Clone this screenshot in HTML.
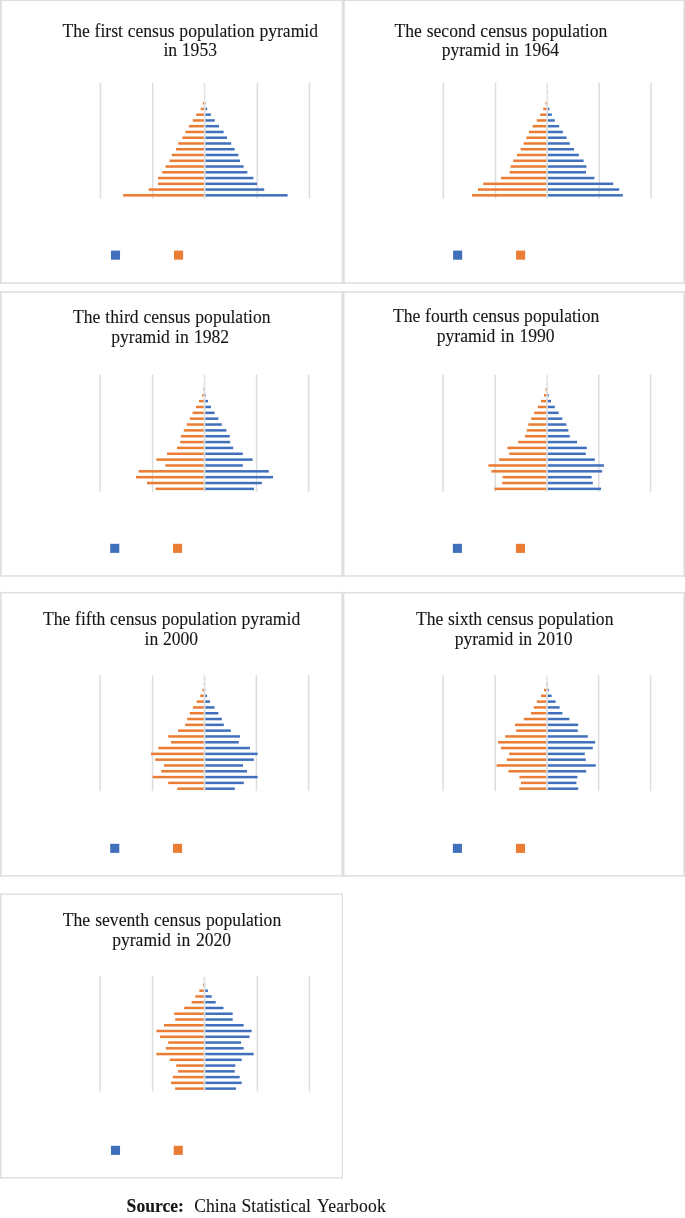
<!DOCTYPE html>
<html lang="en"><head><meta charset="utf-8"><title>Census population pyramids</title>
<style>
html,body{margin:0;padding:0;background:#fff;}
body{width:685px;height:1218px;overflow:hidden;position:relative;font-family:"Liberation Serif",serif;}
svg{position:absolute;left:0;top:0;display:block;}
text{font-family:"Liberation Serif",serif;font-size:17.6px;fill:#151515;stroke:#151515;stroke-width:0.1px;white-space:pre;}
.t{text-anchor:middle;}
</style></head><body>
<svg width="685" height="1218" viewBox="0 0 685 1218">

<rect x="0" y="0" width="685" height="1218" fill="#fff"/>
<rect x="0.00" y="0.00" width="685.00" height="1.10" fill="#DEDFE1"/>
<rect x="0.00" y="282.20" width="685.00" height="1.60" fill="#DEDFE1"/>
<rect x="0.00" y="0.00" width="1.70" height="284.00" fill="#DEDFE1"/>
<rect x="683.30" y="0.00" width="1.70" height="284.00" fill="#DEDFE1"/>
<rect x="341.70" y="0.00" width="3.00" height="284.00" fill="#DEDFE1"/>
<rect x="0.00" y="291.30" width="685.00" height="1.60" fill="#DEDFE1"/>
<rect x="0.00" y="575.20" width="685.00" height="1.50" fill="#DEDFE1"/>
<rect x="0.00" y="291.30" width="1.70" height="285.40" fill="#DEDFE1"/>
<rect x="683.30" y="291.30" width="1.70" height="285.40" fill="#DEDFE1"/>
<rect x="341.40" y="291.30" width="3.00" height="285.40" fill="#DEDFE1"/>
<rect x="0.00" y="591.90" width="685.00" height="1.50" fill="#DEDFE1"/>
<rect x="0.00" y="875.10" width="685.00" height="1.50" fill="#DEDFE1"/>
<rect x="0.00" y="591.90" width="1.70" height="284.70" fill="#DEDFE1"/>
<rect x="683.30" y="591.90" width="1.70" height="284.70" fill="#DEDFE1"/>
<rect x="341.40" y="591.90" width="3.00" height="284.70" fill="#DEDFE1"/>
<rect x="0.00" y="893.50" width="343.00" height="1.40" fill="#DEDFE1"/>
<rect x="0.00" y="1177.00" width="343.00" height="1.50" fill="#DEDFE1"/>
<rect x="0.00" y="893.50" width="1.60" height="285.00" fill="#DEDFE1"/>
<rect x="341.80" y="893.50" width="1.10" height="285.00" fill="#DEDFE1"/>
<g>
<text class="t" transform="translate(190.2,36.6) scale(1,1.02)" style="word-spacing:0.4px">The first census population pyramid</text>
<text class="t" transform="translate(190.2,56.2) scale(1,1.02)" style="word-spacing:0.3px">in 1953</text>
<rect x="99.65" y="82.70" width="1.50" height="116.00" fill="#DCDDDF"/>
<rect x="151.95" y="82.70" width="1.50" height="116.00" fill="#DCDDDF"/>
<rect x="256.55" y="82.70" width="1.50" height="116.00" fill="#DCDDDF"/>
<rect x="308.65" y="82.70" width="1.50" height="116.00" fill="#DCDDDF"/>
<rect x="123.00" y="194.07" width="81.70" height="2.50" fill="#EB7C34"/>
<rect x="204.70" y="194.07" width="82.90" height="2.50" fill="#4070BC"/>
<rect x="148.60" y="188.31" width="56.10" height="2.50" fill="#EB7C34"/>
<rect x="204.70" y="188.31" width="59.50" height="2.50" fill="#4070BC"/>
<rect x="158.00" y="182.55" width="46.70" height="2.50" fill="#EB7C34"/>
<rect x="204.70" y="182.55" width="52.30" height="2.50" fill="#4070BC"/>
<rect x="158.00" y="176.79" width="46.70" height="2.50" fill="#EB7C34"/>
<rect x="204.70" y="176.79" width="48.70" height="2.50" fill="#4070BC"/>
<rect x="162.20" y="171.03" width="42.50" height="2.50" fill="#EB7C34"/>
<rect x="204.70" y="171.03" width="42.70" height="2.50" fill="#4070BC"/>
<rect x="165.60" y="165.27" width="39.10" height="2.50" fill="#EB7C34"/>
<rect x="204.70" y="165.27" width="38.90" height="2.50" fill="#4070BC"/>
<rect x="169.60" y="159.51" width="35.10" height="2.50" fill="#EB7C34"/>
<rect x="204.70" y="159.51" width="35.30" height="2.50" fill="#4070BC"/>
<rect x="171.80" y="153.75" width="32.90" height="2.50" fill="#EB7C34"/>
<rect x="204.70" y="153.75" width="33.70" height="2.50" fill="#4070BC"/>
<rect x="176.00" y="147.99" width="28.70" height="2.50" fill="#EB7C34"/>
<rect x="204.70" y="147.99" width="29.90" height="2.50" fill="#4070BC"/>
<rect x="178.20" y="142.23" width="26.50" height="2.50" fill="#EB7C34"/>
<rect x="204.70" y="142.23" width="26.50" height="2.50" fill="#4070BC"/>
<rect x="182.40" y="136.47" width="22.30" height="2.50" fill="#EB7C34"/>
<rect x="204.70" y="136.47" width="22.30" height="2.50" fill="#4070BC"/>
<rect x="185.40" y="130.71" width="19.30" height="2.50" fill="#EB7C34"/>
<rect x="204.70" y="130.71" width="18.90" height="2.50" fill="#4070BC"/>
<rect x="188.80" y="124.95" width="15.90" height="2.50" fill="#EB7C34"/>
<rect x="204.70" y="124.95" width="14.30" height="2.50" fill="#4070BC"/>
<rect x="192.80" y="119.19" width="11.90" height="2.50" fill="#EB7C34"/>
<rect x="204.70" y="119.19" width="10.10" height="2.50" fill="#4070BC"/>
<rect x="196.20" y="113.43" width="8.50" height="2.50" fill="#EB7C34"/>
<rect x="204.70" y="113.43" width="6.10" height="2.50" fill="#4070BC"/>
<rect x="200.80" y="107.67" width="3.90" height="2.50" fill="#EB7C34"/>
<rect x="204.70" y="107.67" width="2.50" height="2.50" fill="#4070BC"/>
<rect x="202.80" y="101.91" width="1.90" height="2.50" fill="#EB7C34"/>
<rect x="204.70" y="101.91" width="0.80" height="2.50" fill="#4070BC"/>
<rect x="203.65" y="96.15" width="1.05" height="2.50" fill="#EB7C34" opacity="0.25"/>
<rect x="203.65" y="90.39" width="1.05" height="2.50" fill="#EB7C34" opacity="0.25"/>
<rect x="203.65" y="84.63" width="1.05" height="2.50" fill="#EB7C34" opacity="0.25"/>
<rect x="203.85" y="100.28" width="1.70" height="98.42" fill="#DCDEE0"/>
<rect x="203.95" y="82.70" width="1.50" height="17.58" fill="#DCDDDF" opacity="0.7"/>
<rect x="110.95" y="250.60" width="9.10" height="9.10" fill="#4070BC"/>
<rect x="174.00" y="250.60" width="9.10" height="9.10" fill="#EB7C34"/>
</g>
<g>
<text class="t" transform="translate(500.9,36.7) scale(1,1.02)" style="word-spacing:0.43px">The second census population</text>
<text class="t" transform="translate(500.3,56.3) scale(1,1.02)" style="word-spacing:0.5px">pyramid in 1964</text>
<rect x="442.55" y="82.70" width="1.50" height="116.00" fill="#DCDDDF"/>
<rect x="494.75" y="82.70" width="1.50" height="116.00" fill="#DCDDDF"/>
<rect x="598.45" y="82.70" width="1.50" height="116.00" fill="#DCDDDF"/>
<rect x="650.25" y="82.70" width="1.50" height="116.00" fill="#DCDDDF"/>
<rect x="472.00" y="194.07" width="75.10" height="2.50" fill="#EB7C34"/>
<rect x="547.10" y="194.07" width="75.70" height="2.50" fill="#4070BC"/>
<rect x="478.00" y="188.31" width="69.10" height="2.50" fill="#EB7C34"/>
<rect x="547.10" y="188.31" width="72.10" height="2.50" fill="#4070BC"/>
<rect x="483.20" y="182.55" width="63.90" height="2.50" fill="#EB7C34"/>
<rect x="547.10" y="182.55" width="66.10" height="2.50" fill="#4070BC"/>
<rect x="501.00" y="176.79" width="46.10" height="2.50" fill="#EB7C34"/>
<rect x="547.10" y="176.79" width="47.30" height="2.50" fill="#4070BC"/>
<rect x="509.60" y="171.03" width="37.50" height="2.50" fill="#EB7C34"/>
<rect x="547.10" y="171.03" width="38.90" height="2.50" fill="#4070BC"/>
<rect x="510.60" y="165.27" width="36.50" height="2.50" fill="#EB7C34"/>
<rect x="547.10" y="165.27" width="39.30" height="2.50" fill="#4070BC"/>
<rect x="513.20" y="159.51" width="33.90" height="2.50" fill="#EB7C34"/>
<rect x="547.10" y="159.51" width="36.50" height="2.50" fill="#4070BC"/>
<rect x="517.00" y="153.75" width="30.10" height="2.50" fill="#EB7C34"/>
<rect x="547.10" y="153.75" width="31.70" height="2.50" fill="#4070BC"/>
<rect x="520.60" y="147.99" width="26.50" height="2.50" fill="#EB7C34"/>
<rect x="547.10" y="147.99" width="26.90" height="2.50" fill="#4070BC"/>
<rect x="523.60" y="142.23" width="23.50" height="2.50" fill="#EB7C34"/>
<rect x="547.10" y="142.23" width="22.70" height="2.50" fill="#4070BC"/>
<rect x="526.40" y="136.47" width="20.70" height="2.50" fill="#EB7C34"/>
<rect x="547.10" y="136.47" width="19.50" height="2.50" fill="#4070BC"/>
<rect x="529.00" y="130.71" width="18.10" height="2.50" fill="#EB7C34"/>
<rect x="547.10" y="130.71" width="15.70" height="2.50" fill="#4070BC"/>
<rect x="532.60" y="124.95" width="14.50" height="2.50" fill="#EB7C34"/>
<rect x="547.10" y="124.95" width="12.10" height="2.50" fill="#4070BC"/>
<rect x="536.80" y="119.19" width="10.30" height="2.50" fill="#EB7C34"/>
<rect x="547.10" y="119.19" width="7.70" height="2.50" fill="#4070BC"/>
<rect x="540.20" y="113.43" width="6.90" height="2.50" fill="#EB7C34"/>
<rect x="547.10" y="113.43" width="4.70" height="2.50" fill="#4070BC"/>
<rect x="543.20" y="107.67" width="3.90" height="2.50" fill="#EB7C34"/>
<rect x="547.10" y="107.67" width="2.30" height="2.50" fill="#4070BC"/>
<rect x="545.40" y="101.91" width="1.70" height="2.50" fill="#EB7C34"/>
<rect x="547.10" y="101.91" width="0.50" height="2.50" fill="#4070BC"/>
<rect x="547.10" y="96.15" width="1.05" height="2.50" fill="#4070BC" opacity="0.25"/>
<rect x="547.10" y="90.39" width="1.05" height="2.50" fill="#4070BC" opacity="0.25"/>
<rect x="547.10" y="84.63" width="1.05" height="2.50" fill="#4070BC" opacity="0.25"/>
<rect x="546.25" y="100.28" width="1.70" height="98.42" fill="#DCDEE0"/>
<rect x="546.35" y="82.70" width="1.50" height="17.58" fill="#DCDDDF" opacity="0.7"/>
<rect x="453.10" y="250.60" width="9.10" height="9.10" fill="#4070BC"/>
<rect x="516.10" y="250.60" width="9.10" height="9.10" fill="#EB7C34"/>
</g>
<g>
<text class="t" transform="translate(171.8,322.8) scale(1,1.02)" style="word-spacing:0.53px">The third census population</text>
<text class="t" transform="translate(170.2,342.6) scale(1,1.02)" style="word-spacing:0.8px">pyramid in 1982</text>
<rect x="99.45" y="374.50" width="1.50" height="117.30" fill="#DCDDDF"/>
<rect x="151.85" y="374.50" width="1.50" height="117.30" fill="#DCDDDF"/>
<rect x="255.85" y="374.50" width="1.50" height="117.30" fill="#DCDDDF"/>
<rect x="307.85" y="374.50" width="1.50" height="117.30" fill="#DCDDDF"/>
<rect x="155.60" y="487.62" width="48.90" height="2.50" fill="#EB7C34"/>
<rect x="204.50" y="487.62" width="49.50" height="2.50" fill="#4070BC"/>
<rect x="147.00" y="481.78" width="57.50" height="2.50" fill="#EB7C34"/>
<rect x="204.50" y="481.78" width="57.30" height="2.50" fill="#4070BC"/>
<rect x="136.00" y="475.93" width="68.50" height="2.50" fill="#EB7C34"/>
<rect x="204.50" y="475.93" width="68.50" height="2.50" fill="#4070BC"/>
<rect x="138.60" y="470.07" width="65.90" height="2.50" fill="#EB7C34"/>
<rect x="204.50" y="470.07" width="64.30" height="2.50" fill="#4070BC"/>
<rect x="165.40" y="464.23" width="39.10" height="2.50" fill="#EB7C34"/>
<rect x="204.50" y="464.23" width="38.30" height="2.50" fill="#4070BC"/>
<rect x="156.40" y="458.38" width="48.10" height="2.50" fill="#EB7C34"/>
<rect x="204.50" y="458.38" width="48.10" height="2.50" fill="#4070BC"/>
<rect x="167.00" y="452.53" width="37.50" height="2.50" fill="#EB7C34"/>
<rect x="204.50" y="452.53" width="38.30" height="2.50" fill="#4070BC"/>
<rect x="177.00" y="446.68" width="27.50" height="2.50" fill="#EB7C34"/>
<rect x="204.50" y="446.68" width="28.70" height="2.50" fill="#4070BC"/>
<rect x="180.20" y="440.83" width="24.30" height="2.50" fill="#EB7C34"/>
<rect x="204.50" y="440.83" width="25.70" height="2.50" fill="#4070BC"/>
<rect x="180.80" y="434.98" width="23.70" height="2.50" fill="#EB7C34"/>
<rect x="204.50" y="434.98" width="25.30" height="2.50" fill="#4070BC"/>
<rect x="183.80" y="429.12" width="20.70" height="2.50" fill="#EB7C34"/>
<rect x="204.50" y="429.12" width="21.90" height="2.50" fill="#4070BC"/>
<rect x="186.80" y="423.28" width="17.70" height="2.50" fill="#EB7C34"/>
<rect x="204.50" y="423.28" width="17.30" height="2.50" fill="#4070BC"/>
<rect x="189.80" y="417.43" width="14.70" height="2.50" fill="#EB7C34"/>
<rect x="204.50" y="417.43" width="13.90" height="2.50" fill="#4070BC"/>
<rect x="192.60" y="411.58" width="11.90" height="2.50" fill="#EB7C34"/>
<rect x="204.50" y="411.58" width="10.10" height="2.50" fill="#4070BC"/>
<rect x="196.00" y="405.73" width="8.50" height="2.50" fill="#EB7C34"/>
<rect x="204.50" y="405.73" width="6.50" height="2.50" fill="#4070BC"/>
<rect x="199.00" y="399.88" width="5.50" height="2.50" fill="#EB7C34"/>
<rect x="204.50" y="399.88" width="3.50" height="2.50" fill="#4070BC"/>
<rect x="202.20" y="394.03" width="2.30" height="2.50" fill="#EB7C34"/>
<rect x="204.50" y="394.03" width="1.30" height="2.50" fill="#4070BC"/>
<rect x="203.40" y="388.18" width="1.10" height="2.50" fill="#EB7C34"/>
<rect x="204.50" y="388.18" width="0.50" height="2.50" fill="#4070BC"/>
<rect x="204.50" y="382.33" width="1.05" height="2.50" fill="#4070BC" opacity="0.25"/>
<rect x="204.50" y="376.48" width="1.05" height="2.50" fill="#4070BC" opacity="0.25"/>
<rect x="203.65" y="386.50" width="1.70" height="105.30" fill="#DCDEE0"/>
<rect x="203.75" y="374.50" width="1.50" height="12.00" fill="#DCDDDF" opacity="0.7"/>
<rect x="110.20" y="543.80" width="9.10" height="9.10" fill="#4070BC"/>
<rect x="173.00" y="543.80" width="9.10" height="9.10" fill="#EB7C34"/>
</g>
<g>
<text class="t" transform="translate(496.2,321.7) scale(1,1.02)" style="word-spacing:0.2px">The fourth census population</text>
<text class="t" transform="translate(495.7,341.5) scale(1,1.02)" style="word-spacing:0.8px">pyramid in 1990</text>
<rect x="442.25" y="374.50" width="1.50" height="117.30" fill="#DCDDDF"/>
<rect x="494.45" y="374.50" width="1.50" height="117.30" fill="#DCDDDF"/>
<rect x="598.05" y="374.50" width="1.50" height="117.30" fill="#DCDDDF"/>
<rect x="649.85" y="374.50" width="1.50" height="117.30" fill="#DCDDDF"/>
<rect x="494.60" y="487.62" width="52.40" height="2.50" fill="#EB7C34"/>
<rect x="547.00" y="487.62" width="54.00" height="2.50" fill="#4070BC"/>
<rect x="502.20" y="481.78" width="44.80" height="2.50" fill="#EB7C34"/>
<rect x="547.00" y="481.78" width="45.80" height="2.50" fill="#4070BC"/>
<rect x="502.60" y="475.93" width="44.40" height="2.50" fill="#EB7C34"/>
<rect x="547.00" y="475.93" width="44.60" height="2.50" fill="#4070BC"/>
<rect x="491.40" y="470.07" width="55.60" height="2.50" fill="#EB7C34"/>
<rect x="547.00" y="470.07" width="55.20" height="2.50" fill="#4070BC"/>
<rect x="488.40" y="464.23" width="58.60" height="2.50" fill="#EB7C34"/>
<rect x="547.00" y="464.23" width="57.00" height="2.50" fill="#4070BC"/>
<rect x="499.20" y="458.38" width="47.80" height="2.50" fill="#EB7C34"/>
<rect x="547.00" y="458.38" width="47.80" height="2.50" fill="#4070BC"/>
<rect x="509.20" y="452.53" width="37.80" height="2.50" fill="#EB7C34"/>
<rect x="547.00" y="452.53" width="38.80" height="2.50" fill="#4070BC"/>
<rect x="507.40" y="446.68" width="39.60" height="2.50" fill="#EB7C34"/>
<rect x="547.00" y="446.68" width="39.80" height="2.50" fill="#4070BC"/>
<rect x="518.20" y="440.83" width="28.80" height="2.50" fill="#EB7C34"/>
<rect x="547.00" y="440.83" width="30.00" height="2.50" fill="#4070BC"/>
<rect x="525.00" y="434.98" width="22.00" height="2.50" fill="#EB7C34"/>
<rect x="547.00" y="434.98" width="22.80" height="2.50" fill="#4070BC"/>
<rect x="526.80" y="429.12" width="20.20" height="2.50" fill="#EB7C34"/>
<rect x="547.00" y="429.12" width="21.40" height="2.50" fill="#4070BC"/>
<rect x="528.20" y="423.28" width="18.80" height="2.50" fill="#EB7C34"/>
<rect x="547.00" y="423.28" width="19.40" height="2.50" fill="#4070BC"/>
<rect x="531.20" y="417.43" width="15.80" height="2.50" fill="#EB7C34"/>
<rect x="547.00" y="417.43" width="15.40" height="2.50" fill="#4070BC"/>
<rect x="534.20" y="411.58" width="12.80" height="2.50" fill="#EB7C34"/>
<rect x="547.00" y="411.58" width="11.60" height="2.50" fill="#4070BC"/>
<rect x="537.80" y="405.73" width="9.20" height="2.50" fill="#EB7C34"/>
<rect x="547.00" y="405.73" width="7.80" height="2.50" fill="#4070BC"/>
<rect x="541.00" y="399.88" width="6.00" height="2.50" fill="#EB7C34"/>
<rect x="547.00" y="399.88" width="4.00" height="2.50" fill="#4070BC"/>
<rect x="544.00" y="394.03" width="3.00" height="2.50" fill="#EB7C34"/>
<rect x="547.00" y="394.03" width="1.80" height="2.50" fill="#4070BC"/>
<rect x="545.40" y="388.18" width="1.60" height="2.50" fill="#EB7C34"/>
<rect x="547.00" y="388.18" width="0.60" height="2.50" fill="#4070BC"/>
<rect x="547.00" y="382.33" width="1.05" height="2.50" fill="#4070BC" opacity="0.25"/>
<rect x="547.00" y="376.48" width="1.05" height="2.50" fill="#4070BC" opacity="0.25"/>
<rect x="546.15" y="386.50" width="1.70" height="105.30" fill="#DCDEE0"/>
<rect x="546.25" y="374.50" width="1.50" height="12.00" fill="#DCDDDF" opacity="0.7"/>
<rect x="452.85" y="543.80" width="9.10" height="9.10" fill="#4070BC"/>
<rect x="515.90" y="543.80" width="9.10" height="9.10" fill="#EB7C34"/>
</g>
<g>
<text class="t" transform="translate(171.6,625.2) scale(1,1.02)" style="word-spacing:0.3px">The fifth census population pyramid</text>
<text class="t" transform="translate(171.35,645.3) scale(1,1.02)" style="word-spacing:0.3px">in 2000</text>
<rect x="99.45" y="675.20" width="1.50" height="116.00" fill="#DCDDDF"/>
<rect x="151.85" y="675.20" width="1.50" height="116.00" fill="#DCDDDF"/>
<rect x="255.65" y="675.20" width="1.50" height="116.00" fill="#DCDDDF"/>
<rect x="307.85" y="675.20" width="1.50" height="116.00" fill="#DCDDDF"/>
<rect x="177.20" y="787.45" width="27.30" height="2.50" fill="#EB7C34"/>
<rect x="204.50" y="787.45" width="30.30" height="2.50" fill="#4070BC"/>
<rect x="168.20" y="781.64" width="36.30" height="2.50" fill="#EB7C34"/>
<rect x="204.50" y="781.64" width="39.30" height="2.50" fill="#4070BC"/>
<rect x="152.60" y="775.84" width="51.90" height="2.50" fill="#EB7C34"/>
<rect x="204.50" y="775.84" width="53.10" height="2.50" fill="#4070BC"/>
<rect x="161.20" y="770.03" width="43.30" height="2.50" fill="#EB7C34"/>
<rect x="204.50" y="770.03" width="42.50" height="2.50" fill="#4070BC"/>
<rect x="164.00" y="764.23" width="40.50" height="2.50" fill="#EB7C34"/>
<rect x="204.50" y="764.23" width="38.50" height="2.50" fill="#4070BC"/>
<rect x="155.20" y="758.42" width="49.30" height="2.50" fill="#EB7C34"/>
<rect x="204.50" y="758.42" width="49.30" height="2.50" fill="#4070BC"/>
<rect x="151.00" y="752.62" width="53.50" height="2.50" fill="#EB7C34"/>
<rect x="204.50" y="752.62" width="53.10" height="2.50" fill="#4070BC"/>
<rect x="158.40" y="746.81" width="46.10" height="2.50" fill="#EB7C34"/>
<rect x="204.50" y="746.81" width="45.50" height="2.50" fill="#4070BC"/>
<rect x="171.00" y="741.01" width="33.50" height="2.50" fill="#EB7C34"/>
<rect x="204.50" y="741.01" width="34.30" height="2.50" fill="#4070BC"/>
<rect x="168.20" y="735.20" width="36.30" height="2.50" fill="#EB7C34"/>
<rect x="204.50" y="735.20" width="35.50" height="2.50" fill="#4070BC"/>
<rect x="178.00" y="729.40" width="26.50" height="2.50" fill="#EB7C34"/>
<rect x="204.50" y="729.40" width="26.30" height="2.50" fill="#4070BC"/>
<rect x="185.20" y="723.59" width="19.30" height="2.50" fill="#EB7C34"/>
<rect x="204.50" y="723.59" width="19.30" height="2.50" fill="#4070BC"/>
<rect x="187.20" y="717.79" width="17.30" height="2.50" fill="#EB7C34"/>
<rect x="204.50" y="717.79" width="17.30" height="2.50" fill="#4070BC"/>
<rect x="189.80" y="711.98" width="14.70" height="2.50" fill="#EB7C34"/>
<rect x="204.50" y="711.98" width="13.90" height="2.50" fill="#4070BC"/>
<rect x="193.00" y="706.18" width="11.50" height="2.50" fill="#EB7C34"/>
<rect x="204.50" y="706.18" width="10.10" height="2.50" fill="#4070BC"/>
<rect x="196.60" y="700.37" width="7.90" height="2.50" fill="#EB7C34"/>
<rect x="204.50" y="700.37" width="5.50" height="2.50" fill="#4070BC"/>
<rect x="200.20" y="694.57" width="4.30" height="2.50" fill="#EB7C34"/>
<rect x="204.50" y="694.57" width="2.50" height="2.50" fill="#4070BC"/>
<rect x="202.40" y="688.76" width="2.10" height="2.50" fill="#EB7C34"/>
<rect x="204.50" y="688.76" width="0.70" height="2.50" fill="#4070BC"/>
<rect x="203.45" y="682.96" width="1.05" height="2.50" fill="#EB7C34" opacity="0.25"/>
<rect x="204.50" y="682.96" width="1.05" height="2.50" fill="#4070BC" opacity="0.25"/>
<rect x="203.45" y="677.15" width="1.05" height="2.50" fill="#EB7C34" opacity="0.25"/>
<rect x="204.50" y="677.15" width="1.05" height="2.50" fill="#4070BC" opacity="0.25"/>
<rect x="203.65" y="687.11" width="1.70" height="104.09" fill="#DCDEE0"/>
<rect x="203.75" y="675.20" width="1.50" height="11.91" fill="#DCDDDF" opacity="0.7"/>
<rect x="110.20" y="843.80" width="9.10" height="9.10" fill="#4070BC"/>
<rect x="173.00" y="843.80" width="9.10" height="9.10" fill="#EB7C34"/>
</g>
<g>
<text class="t" transform="translate(514.7,625.2) scale(1,1.02)" style="word-spacing:0.2px">The sixth census population</text>
<text class="t" transform="translate(513.6,645.2) scale(1,1.02)" style="word-spacing:0.8px">pyramid in 2010</text>
<rect x="442.25" y="675.20" width="1.50" height="116.00" fill="#DCDDDF"/>
<rect x="494.45" y="675.20" width="1.50" height="116.00" fill="#DCDDDF"/>
<rect x="597.85" y="675.20" width="1.50" height="116.00" fill="#DCDDDF"/>
<rect x="649.85" y="675.20" width="1.50" height="116.00" fill="#DCDDDF"/>
<rect x="519.20" y="787.45" width="27.80" height="2.50" fill="#EB7C34"/>
<rect x="547.00" y="787.45" width="31.20" height="2.50" fill="#4070BC"/>
<rect x="521.00" y="781.64" width="26.00" height="2.50" fill="#EB7C34"/>
<rect x="547.00" y="781.64" width="29.40" height="2.50" fill="#4070BC"/>
<rect x="519.40" y="775.84" width="27.60" height="2.50" fill="#EB7C34"/>
<rect x="547.00" y="775.84" width="30.40" height="2.50" fill="#4070BC"/>
<rect x="508.40" y="770.03" width="38.60" height="2.50" fill="#EB7C34"/>
<rect x="547.00" y="770.03" width="39.20" height="2.50" fill="#4070BC"/>
<rect x="496.60" y="764.23" width="50.40" height="2.50" fill="#EB7C34"/>
<rect x="547.00" y="764.23" width="48.80" height="2.50" fill="#4070BC"/>
<rect x="506.80" y="758.42" width="40.20" height="2.50" fill="#EB7C34"/>
<rect x="547.00" y="758.42" width="38.80" height="2.50" fill="#4070BC"/>
<rect x="509.20" y="752.62" width="37.80" height="2.50" fill="#EB7C34"/>
<rect x="547.00" y="752.62" width="37.80" height="2.50" fill="#4070BC"/>
<rect x="501.00" y="746.81" width="46.00" height="2.50" fill="#EB7C34"/>
<rect x="547.00" y="746.81" width="45.80" height="2.50" fill="#4070BC"/>
<rect x="498.00" y="741.01" width="49.00" height="2.50" fill="#EB7C34"/>
<rect x="547.00" y="741.01" width="48.20" height="2.50" fill="#4070BC"/>
<rect x="505.20" y="735.20" width="41.80" height="2.50" fill="#EB7C34"/>
<rect x="547.00" y="735.20" width="40.80" height="2.50" fill="#4070BC"/>
<rect x="516.20" y="729.40" width="30.80" height="2.50" fill="#EB7C34"/>
<rect x="547.00" y="729.40" width="30.80" height="2.50" fill="#4070BC"/>
<rect x="515.00" y="723.59" width="32.00" height="2.50" fill="#EB7C34"/>
<rect x="547.00" y="723.59" width="31.20" height="2.50" fill="#4070BC"/>
<rect x="523.80" y="717.79" width="23.20" height="2.50" fill="#EB7C34"/>
<rect x="547.00" y="717.79" width="22.40" height="2.50" fill="#4070BC"/>
<rect x="531.00" y="711.98" width="16.00" height="2.50" fill="#EB7C34"/>
<rect x="547.00" y="711.98" width="15.40" height="2.50" fill="#4070BC"/>
<rect x="533.80" y="706.18" width="13.20" height="2.50" fill="#EB7C34"/>
<rect x="547.00" y="706.18" width="12.60" height="2.50" fill="#4070BC"/>
<rect x="536.80" y="700.37" width="10.20" height="2.50" fill="#EB7C34"/>
<rect x="547.00" y="700.37" width="8.60" height="2.50" fill="#4070BC"/>
<rect x="541.00" y="694.57" width="6.00" height="2.50" fill="#EB7C34"/>
<rect x="547.00" y="694.57" width="4.60" height="2.50" fill="#4070BC"/>
<rect x="544.00" y="688.76" width="3.00" height="2.50" fill="#EB7C34"/>
<rect x="547.00" y="688.76" width="1.80" height="2.50" fill="#4070BC"/>
<rect x="546.20" y="682.96" width="0.80" height="2.50" fill="#EB7C34"/>
<rect x="547.00" y="682.96" width="0.40" height="2.50" fill="#4070BC"/>
<rect x="545.95" y="677.15" width="1.05" height="2.50" fill="#EB7C34" opacity="0.25"/>
<rect x="546.15" y="681.30" width="1.70" height="109.90" fill="#DCDEE0"/>
<rect x="546.25" y="675.20" width="1.50" height="6.10" fill="#DCDDDF" opacity="0.7"/>
<rect x="452.85" y="843.80" width="9.10" height="9.10" fill="#4070BC"/>
<rect x="515.90" y="843.80" width="9.10" height="9.10" fill="#EB7C34"/>
</g>
<g>
<text class="t" transform="translate(172,926.0) scale(1,1.02)" style="word-spacing:0.67px">The seventh census population</text>
<text class="t" transform="translate(171.65,946.0) scale(1,1.02)" style="word-spacing:1.35px">pyramid in 2020</text>
<rect x="99.45" y="976.00" width="1.50" height="115.50" fill="#DCDDDF"/>
<rect x="151.85" y="976.00" width="1.50" height="115.50" fill="#DCDDDF"/>
<rect x="256.65" y="976.00" width="1.50" height="115.50" fill="#DCDDDF"/>
<rect x="308.65" y="976.00" width="1.50" height="115.50" fill="#DCDDDF"/>
<rect x="175.20" y="1087.37" width="29.30" height="2.50" fill="#EB7C34"/>
<rect x="204.50" y="1087.37" width="31.60" height="2.50" fill="#4070BC"/>
<rect x="171.00" y="1081.61" width="33.50" height="2.50" fill="#EB7C34"/>
<rect x="204.50" y="1081.61" width="37.20" height="2.50" fill="#4070BC"/>
<rect x="172.80" y="1075.85" width="31.70" height="2.50" fill="#EB7C34"/>
<rect x="204.50" y="1075.85" width="35.20" height="2.50" fill="#4070BC"/>
<rect x="178.00" y="1070.09" width="26.50" height="2.50" fill="#EB7C34"/>
<rect x="204.50" y="1070.09" width="30.20" height="2.50" fill="#4070BC"/>
<rect x="176.20" y="1064.33" width="28.30" height="2.50" fill="#EB7C34"/>
<rect x="204.50" y="1064.33" width="30.80" height="2.50" fill="#4070BC"/>
<rect x="169.80" y="1058.57" width="34.70" height="2.50" fill="#EB7C34"/>
<rect x="204.50" y="1058.57" width="37.20" height="2.50" fill="#4070BC"/>
<rect x="156.40" y="1052.81" width="48.10" height="2.50" fill="#EB7C34"/>
<rect x="204.50" y="1052.81" width="49.20" height="2.50" fill="#4070BC"/>
<rect x="165.80" y="1047.05" width="38.70" height="2.50" fill="#EB7C34"/>
<rect x="204.50" y="1047.05" width="39.20" height="2.50" fill="#4070BC"/>
<rect x="168.20" y="1041.29" width="36.30" height="2.50" fill="#EB7C34"/>
<rect x="204.50" y="1041.29" width="36.60" height="2.50" fill="#4070BC"/>
<rect x="160.00" y="1035.53" width="44.50" height="2.50" fill="#EB7C34"/>
<rect x="204.50" y="1035.53" width="45.00" height="2.50" fill="#4070BC"/>
<rect x="156.40" y="1029.77" width="48.10" height="2.50" fill="#EB7C34"/>
<rect x="204.50" y="1029.77" width="47.20" height="2.50" fill="#4070BC"/>
<rect x="164.00" y="1024.01" width="40.50" height="2.50" fill="#EB7C34"/>
<rect x="204.50" y="1024.01" width="39.20" height="2.50" fill="#4070BC"/>
<rect x="175.20" y="1018.25" width="29.30" height="2.50" fill="#EB7C34"/>
<rect x="204.50" y="1018.25" width="28.20" height="2.50" fill="#4070BC"/>
<rect x="174.20" y="1012.49" width="30.30" height="2.50" fill="#EB7C34"/>
<rect x="204.50" y="1012.49" width="28.20" height="2.50" fill="#4070BC"/>
<rect x="184.20" y="1006.73" width="20.30" height="2.50" fill="#EB7C34"/>
<rect x="204.50" y="1006.73" width="19.00" height="2.50" fill="#4070BC"/>
<rect x="191.60" y="1000.97" width="12.90" height="2.50" fill="#EB7C34"/>
<rect x="204.50" y="1000.97" width="11.20" height="2.50" fill="#4070BC"/>
<rect x="195.40" y="995.21" width="9.10" height="2.50" fill="#EB7C34"/>
<rect x="204.50" y="995.21" width="7.20" height="2.50" fill="#4070BC"/>
<rect x="199.40" y="989.45" width="5.10" height="2.50" fill="#EB7C34"/>
<rect x="204.50" y="989.45" width="3.40" height="2.50" fill="#4070BC"/>
<rect x="203.00" y="983.69" width="1.50" height="2.50" fill="#EB7C34"/>
<rect x="204.50" y="983.69" width="0.60" height="2.50" fill="#4070BC"/>
<rect x="203.45" y="977.93" width="1.05" height="2.50" fill="#EB7C34" opacity="0.25"/>
<rect x="203.65" y="982.06" width="1.70" height="109.44" fill="#DCDEE0"/>
<rect x="203.75" y="976.00" width="1.50" height="6.06" fill="#DCDDDF" opacity="0.7"/>
<rect x="110.95" y="1145.80" width="9.10" height="9.10" fill="#4070BC"/>
<rect x="173.70" y="1145.80" width="9.10" height="9.10" fill="#EB7C34"/>
</g>
<text transform="translate(126.6,1211.5) scale(1,1.02)"><tspan font-weight="bold">Source:</tspan><tspan dx="6.0"> China</tspan><tspan dx="0.8"> Statistical</tspan><tspan dx="2.3" style="letter-spacing:0.14px"> Yearbook</tspan></text>
</svg></body></html>
